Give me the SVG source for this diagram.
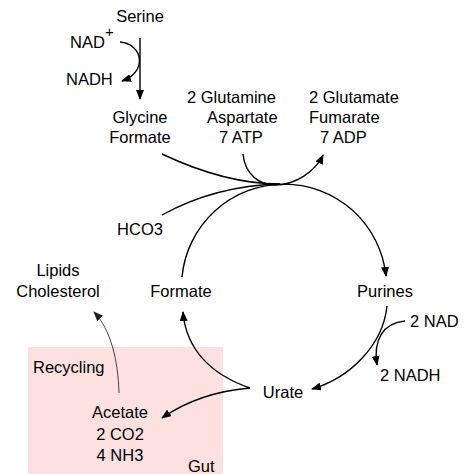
<svg xmlns="http://www.w3.org/2000/svg" width="474" height="474" viewBox="0 0 474 474">
<defs>
<marker id="ah" markerWidth="10" markerHeight="8" refX="9" refY="4" orient="auto" markerUnits="userSpaceOnUse">
<path d="M0,0 L10,4 L0,8 Z" fill="#000"/>
</marker>
<marker id="ahg" markerWidth="10" markerHeight="8" refX="9" refY="4" orient="auto" markerUnits="userSpaceOnUse">
<path d="M0,0 L10,4 L0,8 Z" fill="#222"/>
</marker>
<style>
text{font-family:"Liberation Sans",Arial,sans-serif;font-size:16.5px;fill:#000}
.c{text-anchor:middle}
.l{fill:none;stroke:#000;stroke-width:1.4}
.a{marker-end:url(#ah)}
.thin{fill:none;stroke:#444;stroke-width:1;marker-end:url(#ahg)}
</style>
</defs>
<rect x="28" y="347" width="195" height="130" fill="#fde1e1"/>
<g id="connectors">
<path class="l a" d="M140,38 L140,99"/>
<path class="l a" d="M120,42 C143,44 148,72 122,81"/>
<path class="l" d="M162,154 C200,172 240,184 280,184"/>
<path class="l" d="M162,215 C200,194 240,185 280,184"/>
<path class="l a" d="M243,154 C245,175 260,185 275,185 C295,185 315,172 323,155"/>
<path class="l a" d="M182,277 A102.5,102.5 0 0 1 386,276"/>
<path class="l a" d="M387,306 C383,345 350,378 312,389"/>
<path class="l a" d="M405,321 C383,323 373,340 377,365"/>
<path class="l a" d="M250,388 C212,375 186,350 183,312"/>
<path class="l a" d="M250,388 C215,391 185,402 162,418"/>
<path class="thin" d="M119,393 C118,360 111,330 94,312"/>
</g>
<g id="serine"><text class="c" x="140" y="22">Serine</text></g>
<g id="nad"><text x="70" y="48">NAD</text><text x="105" y="37" style="font-size:15px">+</text></g>
<g id="nadh"><text x="66" y="85">NADH</text></g>
<g id="glycine"><text class="c" x="140" y="123">Glycine</text><text class="c" x="140" y="143">Formate</text></g>
<g id="glutamine"><text x="187" y="103">2 Glutamine</text><text x="207" y="123">Aspartate</text><text x="219" y="143">7 ATP</text></g>
<g id="glutamate"><text x="309" y="103">2 Glutamate</text><text x="309" y="123">Fumarate</text><text x="320" y="143">7 ADP</text></g>
<g id="hco3"><text class="c" x="140" y="235">HCO3</text></g>
<g id="lipids"><text class="c" x="58" y="276">Lipids</text><text class="c" x="58" y="297">Cholesterol</text></g>
<g id="formate"><text class="c" x="181" y="297">Formate</text></g>
<g id="purines"><text class="c" x="385" y="297">Purines</text></g>
<g id="nad2"><text x="410" y="327">2 NAD</text></g>
<g id="nadh2"><text x="380" y="381">2 NADH</text></g>
<g id="urate"><text class="c" x="283" y="398">Urate</text></g>
<g id="recycling"><text x="33" y="373">Recycling</text></g>
<g id="acetate"><text class="c" x="120" y="418">Acetate</text><text class="c" x="120" y="440">2 CO2</text><text class="c" x="120" y="461">4 NH3</text></g>
<g id="gut"><text x="188" y="472">Gut</text></g>
</svg>
